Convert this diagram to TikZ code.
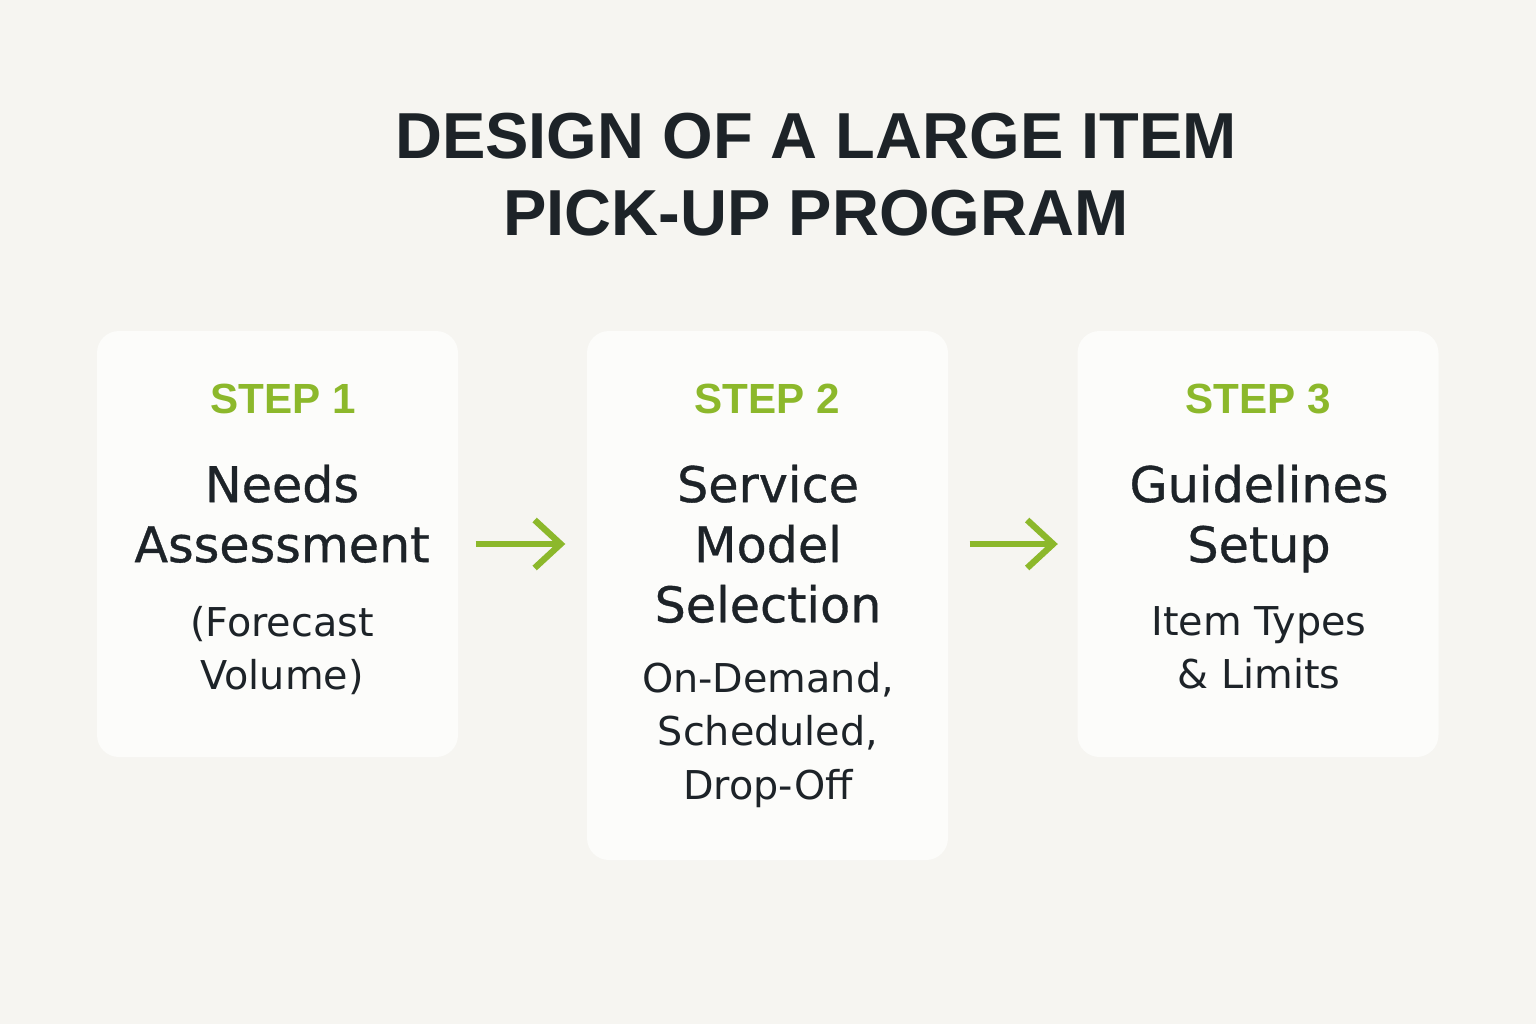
\documentclass[tikz,border=0pt]{standalone}
\usepackage{fontspec}
\setmainfont{DejaVu Sans}
\newfontfamily\titlefont{Liberation Sans}
\newfontfamily\headfont{DejaVu Sans}[AutoFakeBold=0.7]
\usetikzlibrary{arrows.meta}

\definecolor{paper}{HTML}{F6F5F1}
\definecolor{cardfill}{HTML}{FCFCFA}
\definecolor{ink}{HTML}{1D2328}
\definecolor{leaf}{HTML}{8CB82B}

\begin{document}
\begin{tikzpicture}[
        card/.style={fill=cardfill, rounded corners=0.22cm, minimum width=3.61cm, inner sep=0},
        steplabel/.style={anchor=north, inner sep=0, text=leaf,
            font=\titlefont\bfseries\fontsize{12}{14}\selectfont},
        heading/.style={anchor=north, inner sep=0, align=center, text=ink,
            font=\headfont\bfseries\fontsize{14}{17.1}\selectfont},
        detail/.style={anchor=north, inner sep=0, align=center, text=ink,
            font=\fontsize{11.3}{15.1}\selectfont},
        flow/.style={line width=1.8pt, leaf, -{Straight Barb[length=2.6mm,width=4.8mm]}}
    ]
            \fill[paper] (0,0) rectangle (15.36,10.24);
            \useasboundingbox (0,0) rectangle (15.36,10.24);

            % title
            \node[anchor=north, inner sep=0, align=center, text=ink,
                font=\titlefont\bfseries\fontsize{18.5}{21.9}\selectfont]
                (title) at (8.16,9.12) {DESIGN OF A LARGE ITEM\\PICK-UP PROGRAM};

            % cards
            \node[card, minimum height=4.26cm] (S1) at (2.775,4.80) {};
            \node[card, minimum height=5.29cm] (S2) at (7.675,4.285) {};
            \node[card, minimum height=4.26cm] (S3) at (12.58,4.80) {};

            \foreach \x/\num in {2.83/1,7.67/2,12.58/3}{
                \node[steplabel] (L\num) at (\x,6.41) {STEP \num};
            }

            \node[heading] (H1) at (2.82,5.60) {Needs\\Assessment};
            \node[heading] (H2) at (7.68,5.60) {Service\\Model\\Selection};
            \node[heading] (H3) at (12.59,5.60) {Guidelines\\Setup};

            \node[detail] (D1) at (2.82,4.18) {(Forecast\\Volume)};
            \node[detail] (D2) at (7.68,3.62) {On-Demand,\\Scheduled,\\Drop-Of{}f};
            \node[detail] (D3) at (12.59,4.18) {Item Types\\\& Limits};

            % arrows
            \draw[flow, shorten <=0.17cm, shorten >=0.21cm] (S1.east) -- (S1.east -| S2.west);
            \draw[flow, shorten <=0.21cm, shorten >=0.19cm] (S2.east |- S3.west) -- (S3.west);
        \end{tikzpicture}
\end{document}
